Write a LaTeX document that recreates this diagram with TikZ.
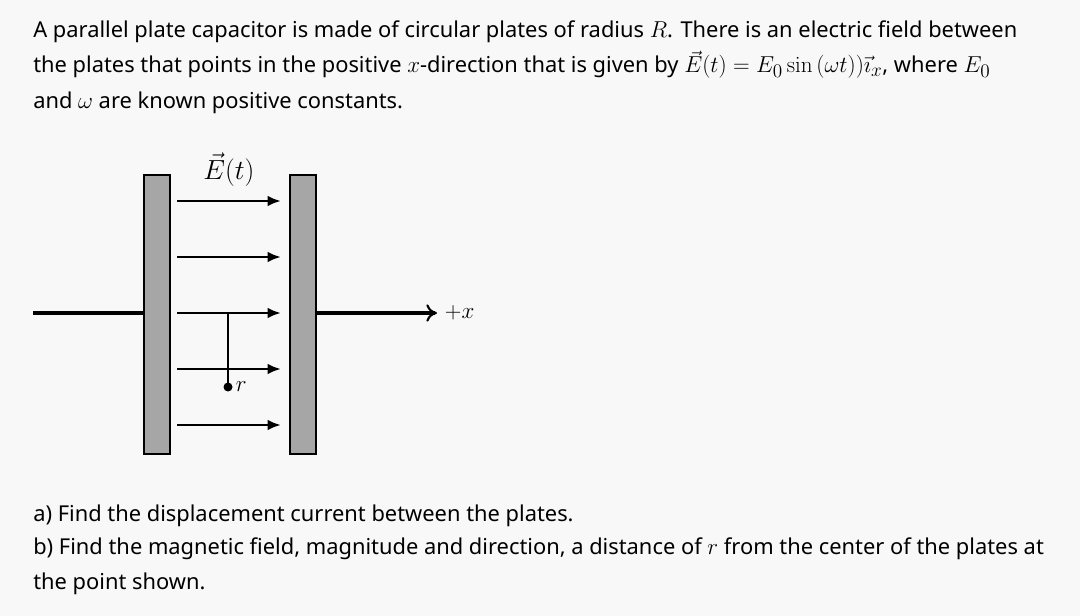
\documentclass[tikz,border=0pt]{standalone}
\usepackage[no-math]{fontspec}
\setmainfont{Noto Sans}
\usetikzlibrary{arrows.meta}
\definecolor{bg}{HTML}{F8F8F8}
\definecolor{plate}{HTML}{A6A6A6}
\newcommand{\mth}[1]{{\fontsize{19}{19}\selectfont$#1$}}
\begin{document}
\begin{tikzpicture}[x=0.75pt,y=-0.75pt,
  txt/.style={anchor=base west,inner sep=0pt,font=\fontsize{16.4}{19}\selectfont},
  platebox/.style={draw=black,line width=1.6pt,fill=plate},
  field/.style={line width=2pt,-{Latex[length=10pt,width=8pt]}}]
\fill[bg] (0,0) rectangle (1080,616);
\useasboundingbox (0,0) rectangle (1080,616);
\node[txt] (l1) at (33,38) {A parallel plate capacitor is made of circular plates of radius \mth{R}. There is an electric field between};
\node[txt] (l2) at (33,73) {the plates that points in the positive \mth{x}-direction that is given by \mth{\vec{E}(t)=E_0\,\mathrm{sin}\,(\omega t))\vec{\imath}_x}, where \mth{E_0}};
\node[txt] (l3) at (33,109) {and \mth{\omega} are known positive constants.};
\node[txt] (l4) at (33,521) {a) Find the displacement current between the plates.};
\node[txt] (l5) at (33,554) {b) Find the magnetic field, magnitude and direction, a distance of \mth{r} from the center of the plates at};
\node[txt] (l6) at (33,589) {the point shown.};
% plates
\node[platebox,minimum width=19.5pt,minimum height=209pt,inner sep=0pt,anchor=north west] (pl) at (143,174) {};
\node[platebox,minimum width=19.5pt,minimum height=209pt,inner sep=0pt,anchor=north west] (pr) at (289,174) {};
\coordinate (axl) at (33,313);
\coordinate (axr) at (437,313);
\draw[line width=2.4pt] (axl) -- (pl.west|-axl);
\draw[line width=2.4pt,-{To[length=8pt,width=13pt,line width=1.6pt]}] (pr.east|-axr) -- (axr);
\node[anchor=west,inner sep=2pt,font=\fontsize{19}{22}\selectfont] (px) at (442,313) {$+x$};
\foreach \y [count=\i] in {201,257,313,369,425}{
  \coordinate (a\i) at (177,\y);
  \coordinate (b\i) at (281,\y);
  \draw[field] (a\i) -- (b\i);
}
\node[font=\fontsize{20}{22}\selectfont,inner sep=0pt] (E) at (229,170) {$\vec{E}(t)$};
\coordinate (rt) at (228,313);
\coordinate (rd) at (228,387);
\draw[line width=1.8pt] (rt) -- (rd);
\fill (rd) circle (4.5);
\node[anchor=west,inner sep=2pt,font=\fontsize{17}{20}\selectfont] (r) at (233,387) {$r$};
\end{tikzpicture}
\end{document}
